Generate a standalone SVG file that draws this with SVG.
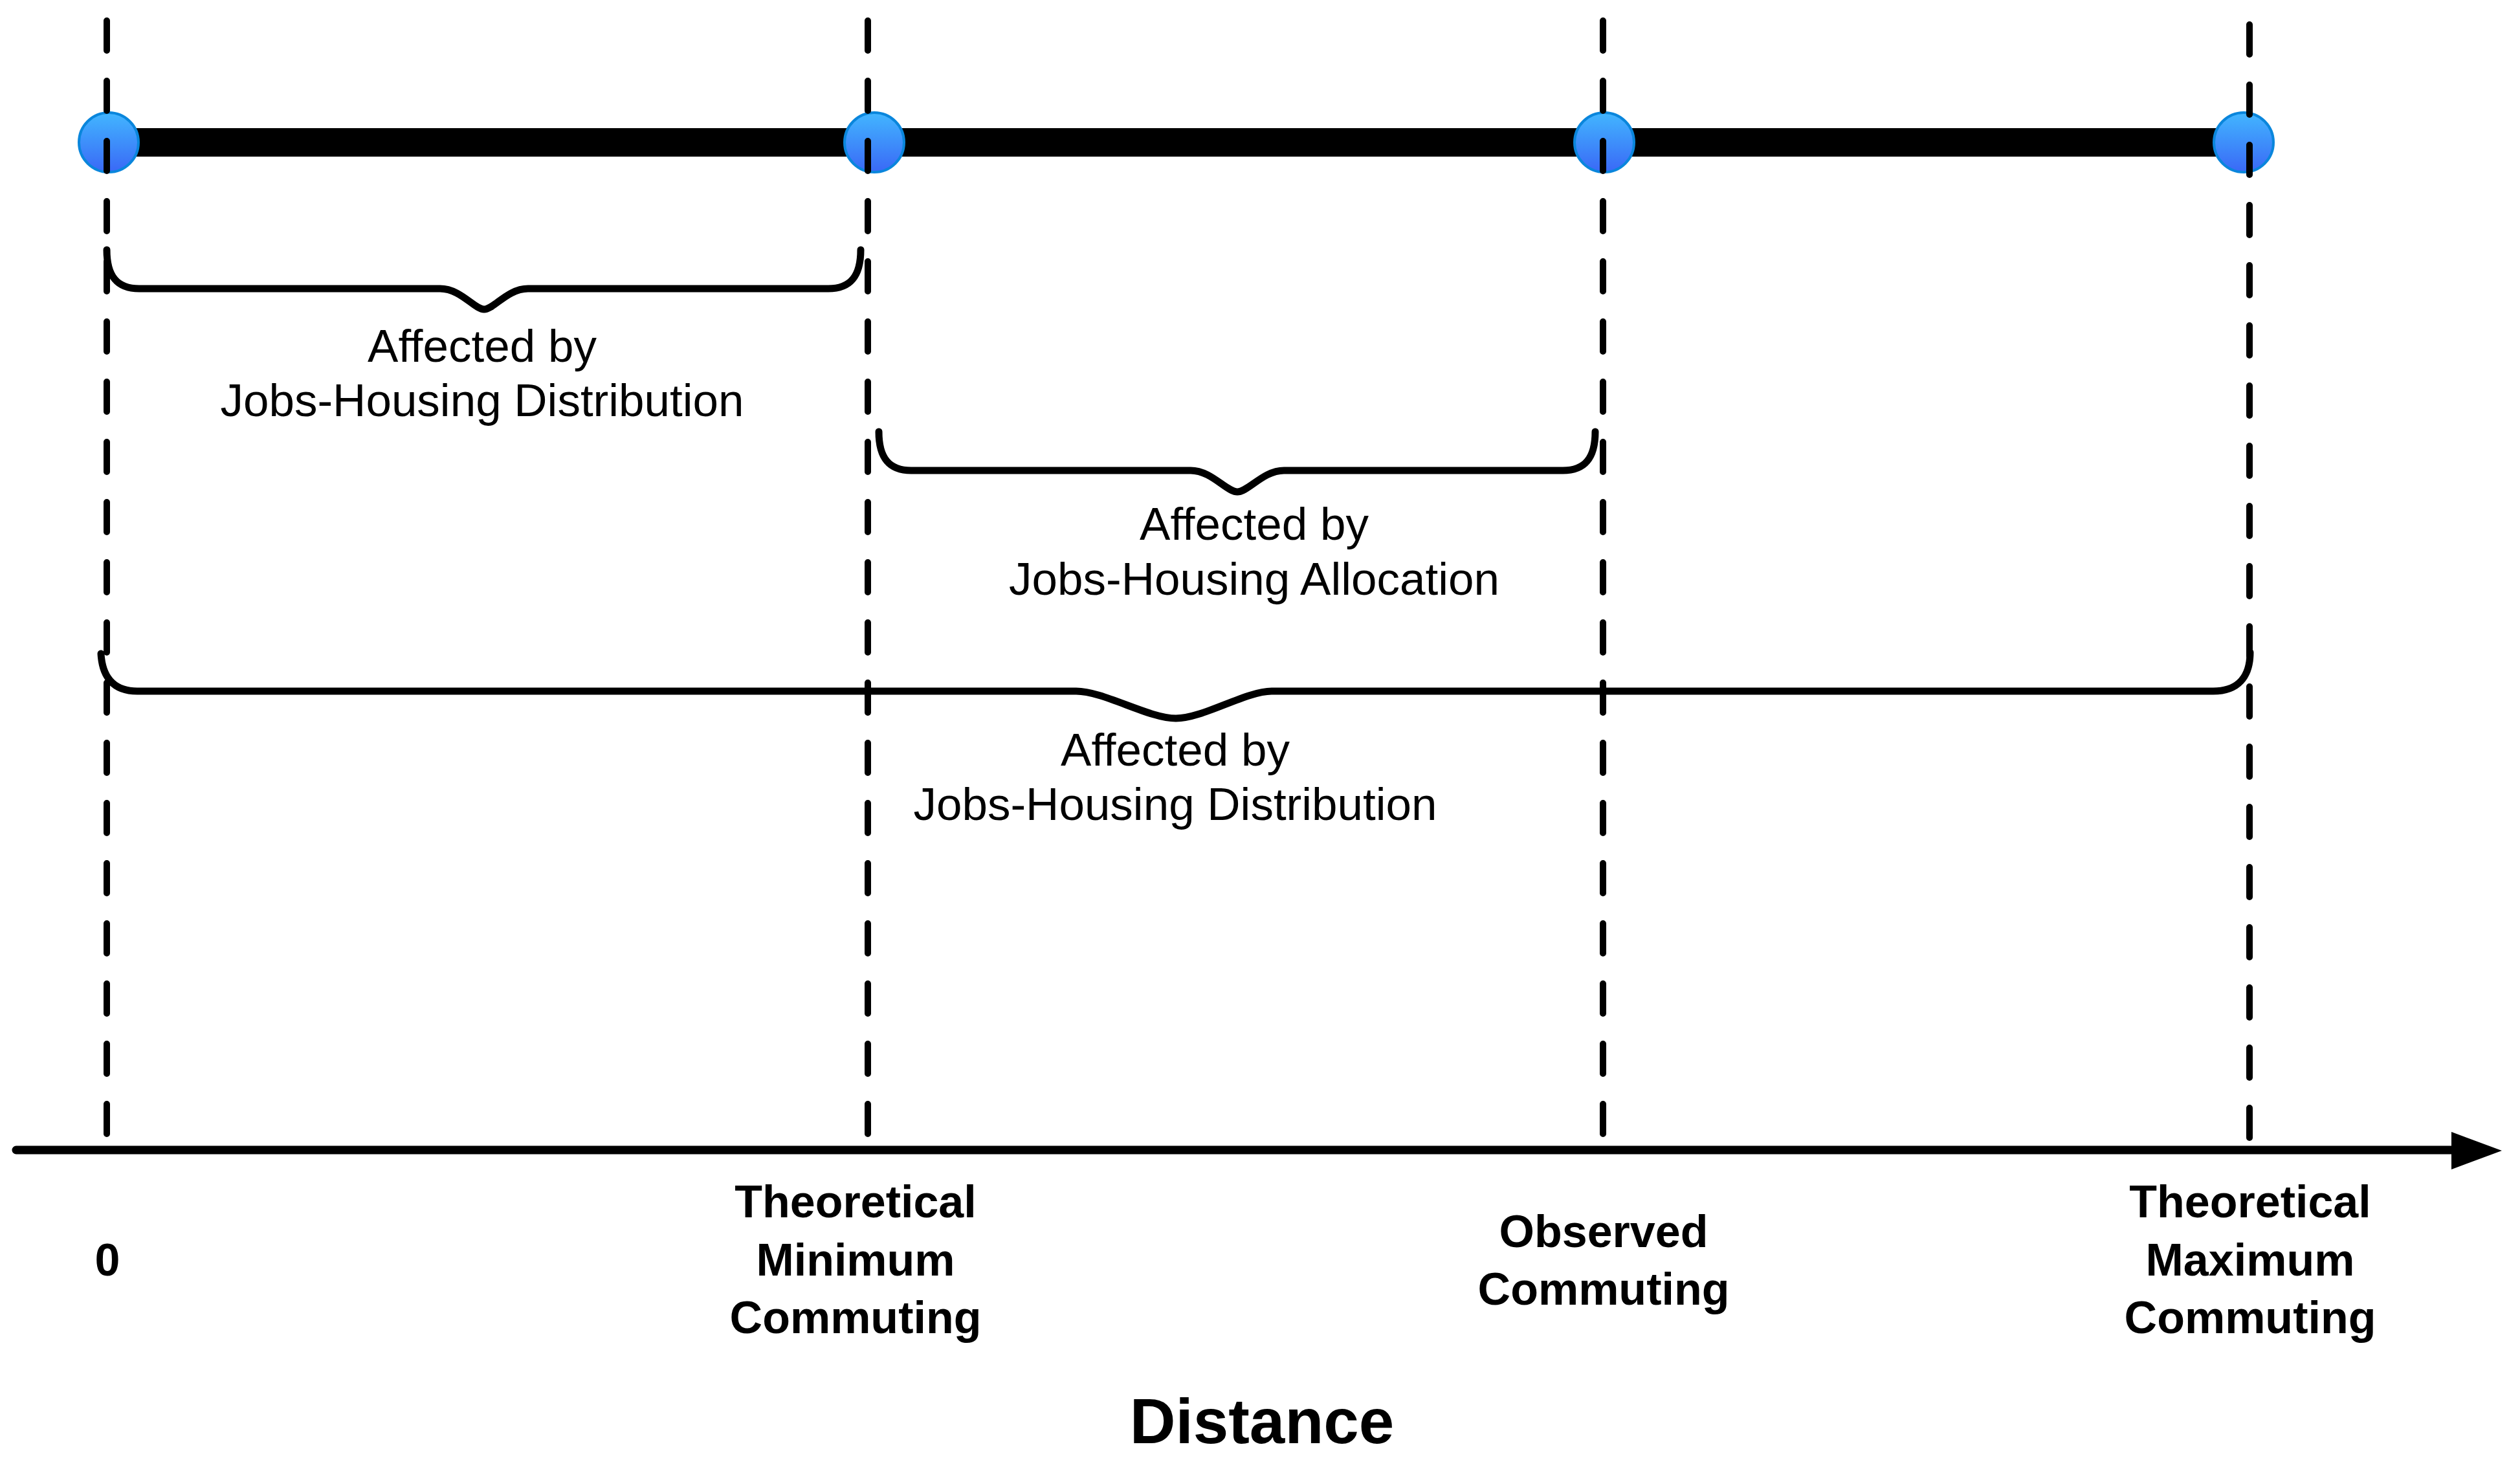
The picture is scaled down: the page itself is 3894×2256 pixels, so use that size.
<svg xmlns="http://www.w3.org/2000/svg" width="3894" height="2256" viewBox="0 0 3894 2256">
<defs>
<linearGradient id="nodeGrad" x1="0" y1="0" x2="0" y2="1">
<stop offset="0" stop-color="#42b6ff"/>
<stop offset="1" stop-color="#3a68f6"/>
</linearGradient>
<style>
.dash{fill:none;stroke:#000;stroke-width:10;stroke-linecap:round;stroke-dasharray:46 47}
.brace{fill:none;stroke:#000;stroke-width:11;stroke-linecap:round;stroke-linejoin:round}
.node{fill:url(#nodeGrad);stroke:#0a86dc;stroke-width:4}
.lbl{font-family:"Liberation Sans",Arial,sans-serif;font-size:71px;fill:#000;text-anchor:middle}
.axis{font-family:"Liberation Sans",Arial,sans-serif;font-size:70px;font-weight:bold;fill:#000;text-anchor:middle}
</style>
</defs>
<rect width="3894" height="2256" fill="#fff"/>
<g id="connectors">
<line id="timeline" x1="168" y1="220" x2="3467" y2="220" stroke="#000" stroke-width="44"/>
<path id="axis-line" d="M25,1777 H3795" stroke="#000" stroke-width="13" stroke-linecap="round" fill="none"/>
<polygon id="axis-arrow" points="3788,1749 3866,1778 3788,1807" fill="#000"/>
</g>
<g id="node-0"><circle class="node" cx="168" cy="220" r="46"/></g>
<g id="node-min"><circle class="node" cx="1351" cy="220" r="46"/></g>
<g id="node-obs"><circle class="node" cx="2479" cy="220" r="46"/></g>
<g id="node-max"><circle class="node" cx="3467" cy="220" r="46"/></g>
<g id="guides">
<path class="dash" d="M165,32 V1752"/>
<path class="dash" d="M1341,32 V1752"/>
<path class="dash" d="M2477,32 V1752"/>
<path class="dash" d="M3476,38 V1758"/>
</g>
<g id="brace-1">
<path class="brace" d="M165,386 C165,426 180,446 215,446 H680 C712,446 733,478 748,478 C763,478 784,446 816,446 H1280 C1315,446 1330,426 1330,386"/>
<text class="lbl" x="745" y="559">Affected by</text>
<text class="lbl" x="745" y="643">Jobs-Housing Distribution</text>
</g>
<g id="brace-2">
<path class="brace" d="M1358,667 C1358,707 1373,727 1408,727 H1840 C1872,727 1895,760 1912,760 C1929,760 1952,727 1984,727 H2415 C2450,727 2465,707 2465,667"/>
<text class="lbl" x="1938" y="834">Affected by</text>
<text class="lbl" x="1938" y="919">Jobs-Housing Allocation</text>
</g>
<g id="brace-3">
<path class="brace" d="M156,1010 C158,1046 175,1068 212,1068 H1663 C1705,1068 1775,1110 1817,1110 C1859,1110 1925,1068 1965,1068 H3420 C3458,1068 3477,1046 3477,1008"/>
<text class="lbl" x="1816" y="1183">Affected by</text>
<text class="lbl" x="1816" y="1267">Jobs-Housing Distribution</text>
</g>
<g id="label-0"><text class="axis" x="166" y="1971">0</text></g>
<g id="label-min">
<text class="axis" x="1322" y="1881">Theoretical</text>
<text class="axis" x="1322" y="1971">Minimum</text>
<text class="axis" x="1322" y="2060">Commuting</text>
</g>
<g id="label-obs">
<text class="axis" x="2478" y="1927">Observed</text>
<text class="axis" x="2478" y="2016">Commuting</text>
</g>
<g id="label-max">
<text class="axis" x="3477" y="1881">Theoretical</text>
<text class="axis" x="3477" y="1971">Maximum</text>
<text class="axis" x="3477" y="2060">Commuting</text>
</g>
<g id="axis-title"><text class="axis" x="1950" y="2230" style="font-size:98px">Distance</text></g>
</svg>
